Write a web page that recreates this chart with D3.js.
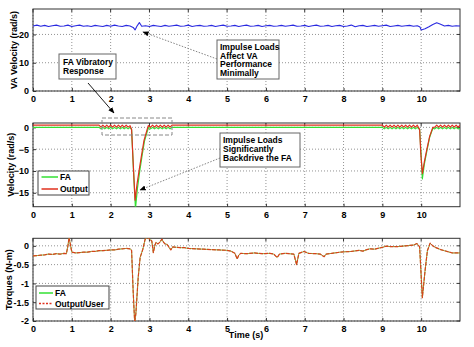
<!DOCTYPE html>
<html><head><meta charset="utf-8">
<script src="https://cdn.jsdelivr.net/npm/d3@7"></script>
<style>
body{margin:0;background:#fff;}
svg text{font-family:"Liberation Sans",Arial,sans-serif;font-weight:bold;fill:#000;}
</style></head>
<body>
<svg id="chart" width="474" height="347"></svg>
<script>
// ---------------- DATA ----------------
const xTicks = [0,1,2,3,4,5,6,7,8,9,10];
const vaTicks = [0,10,20];
const velTicks = [0,-5,-10,-15];
const torqueTicks = [0,-0.5,-1,-1.5,-2];

// VA velocity (rad/s) [time, value]
const vaVelocity = [
 [0,23.0],[0.1,23.3],[0.2,22.9],[0.3,23.2],[0.4,22.8],[0.5,23.1],[0.6,23.3],[0.7,22.9],[0.8,23.0],[0.9,23.3],
 [1.0,22.8],[1.1,23.1],[1.2,23.3],[1.3,22.9],[1.4,23.1],[1.5,22.8],[1.6,23.2],[1.7,23.0],[1.8,22.8],[1.9,23.2],
 [2.0,22.9],[2.1,23.3],[2.2,23.0],[2.3,22.8],[2.4,23.2],[2.5,23.0],[2.58,22.5],[2.63,21.6],[2.68,23.0],[2.74,24.2],
 [2.8,22.9],[2.9,23.1],[3.0,22.8],[3.1,23.2],[3.2,23.0],[3.3,22.8],[3.4,23.2],[3.5,22.9],[3.6,23.1],[3.7,23.3],
 [3.8,22.9],[3.9,23.0],[4.0,23.3],[4.1,22.8],[4.2,23.1],[4.3,23.2],[4.4,22.9],[4.5,23.0],[4.6,23.2],[4.7,22.8],
 [4.8,23.1],[4.9,23.3],[5.0,22.9],[5.1,23.0],[5.2,23.2],[5.3,22.8],[5.4,23.1],[5.5,23.3],[5.6,22.9],[5.7,23.0],
 [5.8,23.2],[5.9,22.8],[6.0,23.1],[6.1,23.2],[6.2,22.9],[6.3,23.0],[6.4,23.2],[6.5,22.9],[6.6,23.1],[6.7,23.3],
 [6.8,22.9],[6.9,23.0],[7.0,23.2],[7.1,22.8],[7.2,23.1],[7.3,23.3],[7.4,22.9],[7.5,23.0],[7.6,23.2],[7.7,22.8],
 [7.8,23.1],[7.9,23.2],[8.0,22.8],[8.1,23.0],[8.2,23.3],[8.3,22.7],[8.4,23.1],[8.5,23.2],[8.6,22.8],[8.7,23.0],
 [8.8,23.2],[8.9,22.9],[9.0,23.1],[9.1,23.3],[9.2,22.8],[9.3,23.0],[9.4,23.2],[9.5,22.9],[9.6,23.1],[9.7,23.2],
 [9.8,22.9],[9.9,23.1],[9.97,22.6],[10.0,21.6],[10.1,22.0],[10.2,22.7],[10.3,23.5],[10.4,24.1],[10.5,23.6],[10.6,23.0],
 [10.7,23.2],[10.8,22.9],[10.9,23.1],[11.0,23.0]
];

// FA velocity (rad/s) [time, value]
const faVelocity = [
 [0,0],[1.7,0],[1.75,-0.35],[1.8,0],[1.85,-0.35],[1.9,0],[1.95,-0.35],[2.0,0],[2.05,-0.35],[2.1,0],[2.15,-0.35],
 [2.2,0],[2.25,-0.35],[2.3,0],[2.35,-0.35],[2.4,0],[2.45,-0.35],[2.5,0],[2.54,-0.5],[2.6,-12],[2.64,-18.6],
 [2.69,-14],[2.75,-10],[2.81,-6.5],[2.87,-3.2],[2.94,-1],[2.98,0],[3.03,-0.35],[3.08,0],[3.13,-0.35],[3.18,0],
 [3.23,-0.35],[3.28,0],[3.33,-0.35],[3.38,0],[3.43,-0.35],[3.48,0],[3.53,-0.35],[3.58,0],[9.0,0],[9.05,-0.35],
 [9.1,0],[9.15,-0.35],[9.2,0],[9.25,-0.35],[9.3,0],[9.35,-0.35],[9.4,0],[9.45,-0.35],[9.5,0],[9.55,-0.35],[9.6,0],
 [9.65,-0.35],[9.7,0],[9.75,-0.35],[9.8,0],[9.85,-0.35],[9.9,0],[9.96,-0.5],[10.0,-6.5],[10.03,-11.8],[10.08,-8.5],
 [10.15,-5.2],[10.22,-2.2],[10.3,-0.2],[10.35,-0.35],[10.4,0],[10.45,-0.35],[10.5,0],[10.55,-0.35],[10.6,0],
 [10.65,-0.35],[10.7,0],[10.75,-0.35],[10.8,0],[10.85,-0.35],[10.9,0],[10.95,-0.35],[11.0,-0.2]
];
// Output velocity (rad/s) [time, value]
const outVelocity = [
 [0,0.5],[1.7,0.5],[1.75,0.05],[1.8,0.5],[1.85,0.05],[1.9,0.5],[1.95,0.05],[2.0,0.5],[2.05,0.05],[2.1,0.5],[2.15,0.05],
 [2.2,0.5],[2.25,0.05],[2.3,0.5],[2.35,0.05],[2.4,0.5],[2.45,0.05],[2.5,0.4],[2.54,-0.5],[2.58,-8],[2.63,-16.7],
 [2.68,-13],[2.74,-9.5],[2.8,-6.2],[2.86,-3],[2.93,-0.8],[2.97,0.4],[3.03,0.05],[3.08,0.5],[3.13,0.05],[3.18,0.5],
 [3.23,0.05],[3.28,0.5],[3.33,0.05],[3.38,0.5],[3.43,0.05],[3.48,0.5],[3.53,0.05],[3.58,0.5],[9.0,0.5],[9.05,0.05],
 [9.1,0.5],[9.15,0.05],[9.2,0.5],[9.25,0.05],[9.3,0.5],[9.35,0.05],[9.4,0.5],[9.45,0.05],[9.5,0.5],[9.55,0.05],[9.6,0.5],
 [9.65,0.05],[9.7,0.5],[9.75,0.05],[9.8,0.5],[9.85,0.05],[9.9,0.5],[9.96,-0.5],[9.99,-6],[10.03,-10.6],[10.08,-8],
 [10.15,-4.9],[10.22,-2],[10.3,0],[10.35,0.05],[10.4,0.5],[10.45,0.05],[10.5,0.5],[10.55,0.05],[10.6,0.5],
 [10.65,0.05],[10.7,0.5],[10.75,0.05],[10.8,0.5],[10.85,0.05],[10.9,0.5],[10.95,0.05],[11.0,0.5]
];

// Torques (N-m) [time, value]
const faTorque = [
 [0,-0.27],[0.1,-0.26],[0.2,-0.25],[0.3,-0.24],[0.4,-0.22],[0.5,-0.23],[0.6,-0.21],[0.7,-0.22],[0.8,-0.2],[0.86,-0.21],
 [0.9,0.0],[0.93,0.22],[0.96,0.05],[1.0,-0.17],[1.1,-0.19],[1.2,-0.18],[1.3,-0.17],[1.4,-0.17],[1.5,-0.15],[1.6,-0.15],
 [1.7,-0.13],[1.8,-0.13],[1.9,-0.12],[2.0,-0.11],[2.1,-0.11],[2.2,-0.09],[2.3,-0.08],[2.4,-0.07],[2.5,-0.08],[2.54,-0.12],
 [2.58,-1.2],[2.62,-2.05],[2.65,-1.8],[2.71,-0.84],[2.76,-0.31],[2.83,-0.09],[2.89,0.18],[2.95,0.22],[3.0,0.18],[3.06,0.13],
 [3.1,-0.18],[3.14,0.02],[3.17,0.09],[3.22,0.05],[3.27,0.1],[3.32,0.18],[3.36,0.1],[3.4,0.05],[3.45,0.04],[3.48,0.0],
 [3.55,-0.11],[3.6,-0.03],[3.7,-0.04],[3.8,-0.05],[3.9,-0.05],[4.0,-0.07],[4.2,-0.08],[4.4,-0.09],[4.6,-0.1],[4.8,-0.11],
 [5.0,-0.12],[5.1,-0.14],[5.2,-0.2],[5.26,-0.35],[5.3,-0.25],[5.35,-0.2],[5.5,-0.21],[5.7,-0.19],[5.9,-0.21],[6.1,-0.2],
 [6.2,-0.22],[6.29,-0.31],[6.35,-0.22],[6.5,-0.2],[6.6,-0.21],[6.72,-0.22],[6.79,-0.5],[6.85,-0.2],[6.98,-0.15],[7.1,-0.2],
 [7.3,-0.21],[7.4,-0.22],[7.5,-0.29],[7.55,-0.22],[7.7,-0.2],[7.9,-0.17],[8.0,-0.16],[8.2,-0.15],[8.4,-0.12],[8.5,-0.14],
 [8.6,-0.1],[8.69,-0.08],[8.8,-0.09],[9.0,-0.04],[9.1,-0.01],[9.2,-0.02],[9.4,-0.02],[9.6,0.0],[9.8,0.02],[9.89,0.06],
 [9.96,-0.03],[10.03,-1.38],[10.1,-0.66],[10.16,-0.13],[10.23,0.07],[10.3,0.0],[10.36,-0.04],[10.5,-0.1],[10.6,-0.13],
 [10.8,-0.19],[11.0,-0.19]
];
const outTorque = faTorque.map(d => [d[0], d[1]]);

// ---------------- DRAW ----------------
const svg = d3.select("#chart");
const X0 = 33, X1 = 460;
const x = d3.scaleLinear().domain([0, 11]).range([X0, X1]);

const BLUE = "#2a2ae0", GREEN = "#33e033", RED = "#e0301e";

function panel(id, y0, y1, ydom, yticks, ylabel, ylabelX, fmt) {
  const y = d3.scaleLinear().domain(ydom).range([y1, y0]);
  const g = svg.append("g");
  g.append("rect").attr("x", X0).attr("y", y0).attr("width", X1 - X0).attr("height", y1 - y0).attr("fill", "#fff");
  g.selectAll(".gx").data(xTicks).enter().append("line")
    .attr("x1", d => x(d)).attr("x2", d => x(d)).attr("y1", y0).attr("y2", y1)
    .attr("stroke", "#777").attr("stroke-width", 0.8).attr("stroke-dasharray", "1,2");
  g.selectAll(".gy").data(yticks).enter().append("line")
    .attr("x1", X0).attr("x2", X1).attr("y1", d => y(d)).attr("y2", d => y(d))
    .attr("stroke", "#777").attr("stroke-width", 0.8).attr("stroke-dasharray", "1,2");
  const ax = g.append("g").attr("transform", `translate(0,${y1})`)
    .call(d3.axisBottom(x).tickValues(xTicks).tickSize(-3).tickPadding(5).tickFormat(d3.format("d")));
  const ay = g.append("g").attr("transform", `translate(${X0},0)`)
    .call(d3.axisLeft(y).tickValues(yticks).tickSize(-3).tickPadding(4).tickFormat(fmt));
  [ax, ay].forEach(a => {
    a.select(".domain").remove();
    a.selectAll("line").attr("stroke", "#333");
    a.selectAll("text").style("font-size", "9px").style("font-weight", "bold")
      .style("font-family", "'Liberation Sans',Arial,sans-serif").attr("fill", "#000");
  });
  g.selectAll(".tt").data(xTicks).enter().append("line")
    .attr("x1", d => x(d)).attr("x2", d => x(d)).attr("y1", y0).attr("y2", y0 + 3).attr("stroke", "#333");
  g.selectAll(".tr").data(yticks).enter().append("line")
    .attr("x1", X1).attr("x2", X1 - 3).attr("y1", d => y(d)).attr("y2", d => y(d)).attr("stroke", "#333");
  g.append("rect").attr("x", X0).attr("y", y0).attr("width", X1 - X0).attr("height", y1 - y0)
    .attr("fill", "none").attr("stroke", "#333").attr("stroke-width", 1);
  svg.append("clipPath").attr("id", id).append("rect")
    .attr("x", X0).attr("y", y0).attr("width", X1 - X0).attr("height", y1 - y0);
  svg.append("text").attr("transform", `translate(${ylabelX},${(y0 + y1) / 2}) rotate(-90)`)
    .attr("text-anchor", "middle").attr("dominant-baseline", "central")
    .style("font-size", "9px").text(ylabel);
  return y;
}

function drawLine(y, data, clip, color, width, dash) {
  const line = d3.line().x(d => x(d[0])).y(d => y(d[1]));
  svg.append("path").datum(data).attr("d", line).attr("clip-path", `url(#${clip})`)
    .attr("fill", "none").attr("stroke", color).attr("stroke-width", width)
    .attr("stroke-dasharray", dash || null).attr("stroke-linejoin", "round");
}

const fmtInt = d3.format("d");
const fmtT = d => (d === 0 ? "0" : String(d));

const yVA = panel("c1", 9, 91, [0, 29], vaTicks, "VA Velocity (rad/s)", 14, fmtInt);
drawLine(yVA, vaVelocity, "c1", BLUE, 1.1);

const yV = panel("c2", 123, 206.7, [-18.2, 1], velTicks, "Velocity (rad/s)", 11, fmtInt);
drawLine(yV, faVelocity, "c2", GREEN, 1.2);
drawLine(yV, outVelocity, "c2", RED, 1.2);

const yT = panel("c3", 238.3, 321, [-2, 0.2], torqueTicks, "Torques (N-m)", 9, fmtT);
drawLine(yT, faTorque, "c3", "#7ec040", 1.0);
drawLine(yT, outTorque, "c3", "#d8421c", 1.2, "4,1");

svg.append("text").attr("x", 246).attr("y", 338).attr("text-anchor", "middle")
  .style("font-size", "9px").text("Time (s)");

svg.append("rect").attr("x", 102).attr("y", 118).attr("width", 70).attr("height", 17)
  .attr("fill", "none").attr("stroke", "#888").attr("stroke-width", 1).attr("stroke-dasharray", "4,2");

const defs = svg.append("defs");
defs.append("marker").attr("id", "ah").attr("viewBox", "0 0 10 10").attr("refX", 9).attr("refY", 5)
  .attr("markerWidth", 7).attr("markerHeight", 7).attr("orient", "auto")
  .append("path").attr("d", "M0,1 L10,5 L0,9 z").attr("fill", "#000");

svg.append("line").attr("x1", 88).attr("y1", 83).attr("x2", 114).attr("y2", 113)
  .attr("stroke", "#000").attr("stroke-width", 0.9).attr("marker-end", "url(#ah)");
svg.append("line").attr("x1", 217).attr("y1", 59).attr("x2", 143).attr("y2", 32)
  .attr("stroke", "#777").attr("stroke-width", 0.9).attr("stroke-dasharray", "1.5,1.5").attr("marker-end", "url(#ah)");
svg.append("line").attr("x1", 220).attr("y1", 158).attr("x2", 140).attr("y2", 190)
  .attr("stroke", "#777").attr("stroke-width", 0.9).attr("stroke-dasharray", "1.5,1.5").attr("marker-end", "url(#ah)");

function box(x0, y0, w, h, lines, tx, ty, dy) {
  svg.append("rect").attr("x", x0).attr("y", y0).attr("width", w).attr("height", h)
    .attr("fill", "#fff").attr("stroke", "#666").attr("stroke-width", 1);
  lines.forEach((t, i) => svg.append("text").attr("x", tx).attr("y", ty + i * dy)
    .attr("dominant-baseline", "central").style("font-size", "8.5px").text(t));
}
box(59, 54, 57, 25, ["FA Vibratory", "Response"], 63, 62, 8.5);
box(217, 40, 62, 39, ["Impulse Loads", "Affect VA", "Performance", "Minimally"], 220, 47, 8.6);
box(220, 133, 80, 34, ["Impulse Loads", "Significantly", "Backdrive the FA"], 223, 140, 9);

function legend(x0, y0, w, h, items) {
  svg.append("rect").attr("x", x0).attr("y", y0).attr("width", w).attr("height", h)
    .attr("fill", "#fff").attr("stroke", "#444").attr("stroke-width", 1);
  items.forEach(it => {
    svg.append("line").attr("x1", it.lx0).attr("x2", it.lx1).attr("y1", it.y).attr("y2", it.y)
      .attr("stroke", it.color).attr("stroke-width", 1.5).attr("stroke-dasharray", it.dash || null);
    svg.append("text").attr("x", it.tx).attr("y", it.y).attr("dominant-baseline", "central")
      .style("font-size", "8.5px").text(it.label);
  });
}
legend(38, 171, 51, 24, [
  {label: "FA", color: GREEN, y: 177, lx0: 41.5, lx1: 58, tx: 60},
  {label: "Output", color: RED, y: 189, lx0: 41.5, lx1: 58, tx: 60}
]);
legend(36, 286, 73, 23, [
  {label: "FA", color: GREEN, y: 293, lx0: 39, lx1: 53, tx: 55},
  {label: "Output/User", color: RED, y: 303.5, lx0: 39, lx1: 53, tx: 55, dash: "2,1.5"}
]);
</script>
</body></html>
